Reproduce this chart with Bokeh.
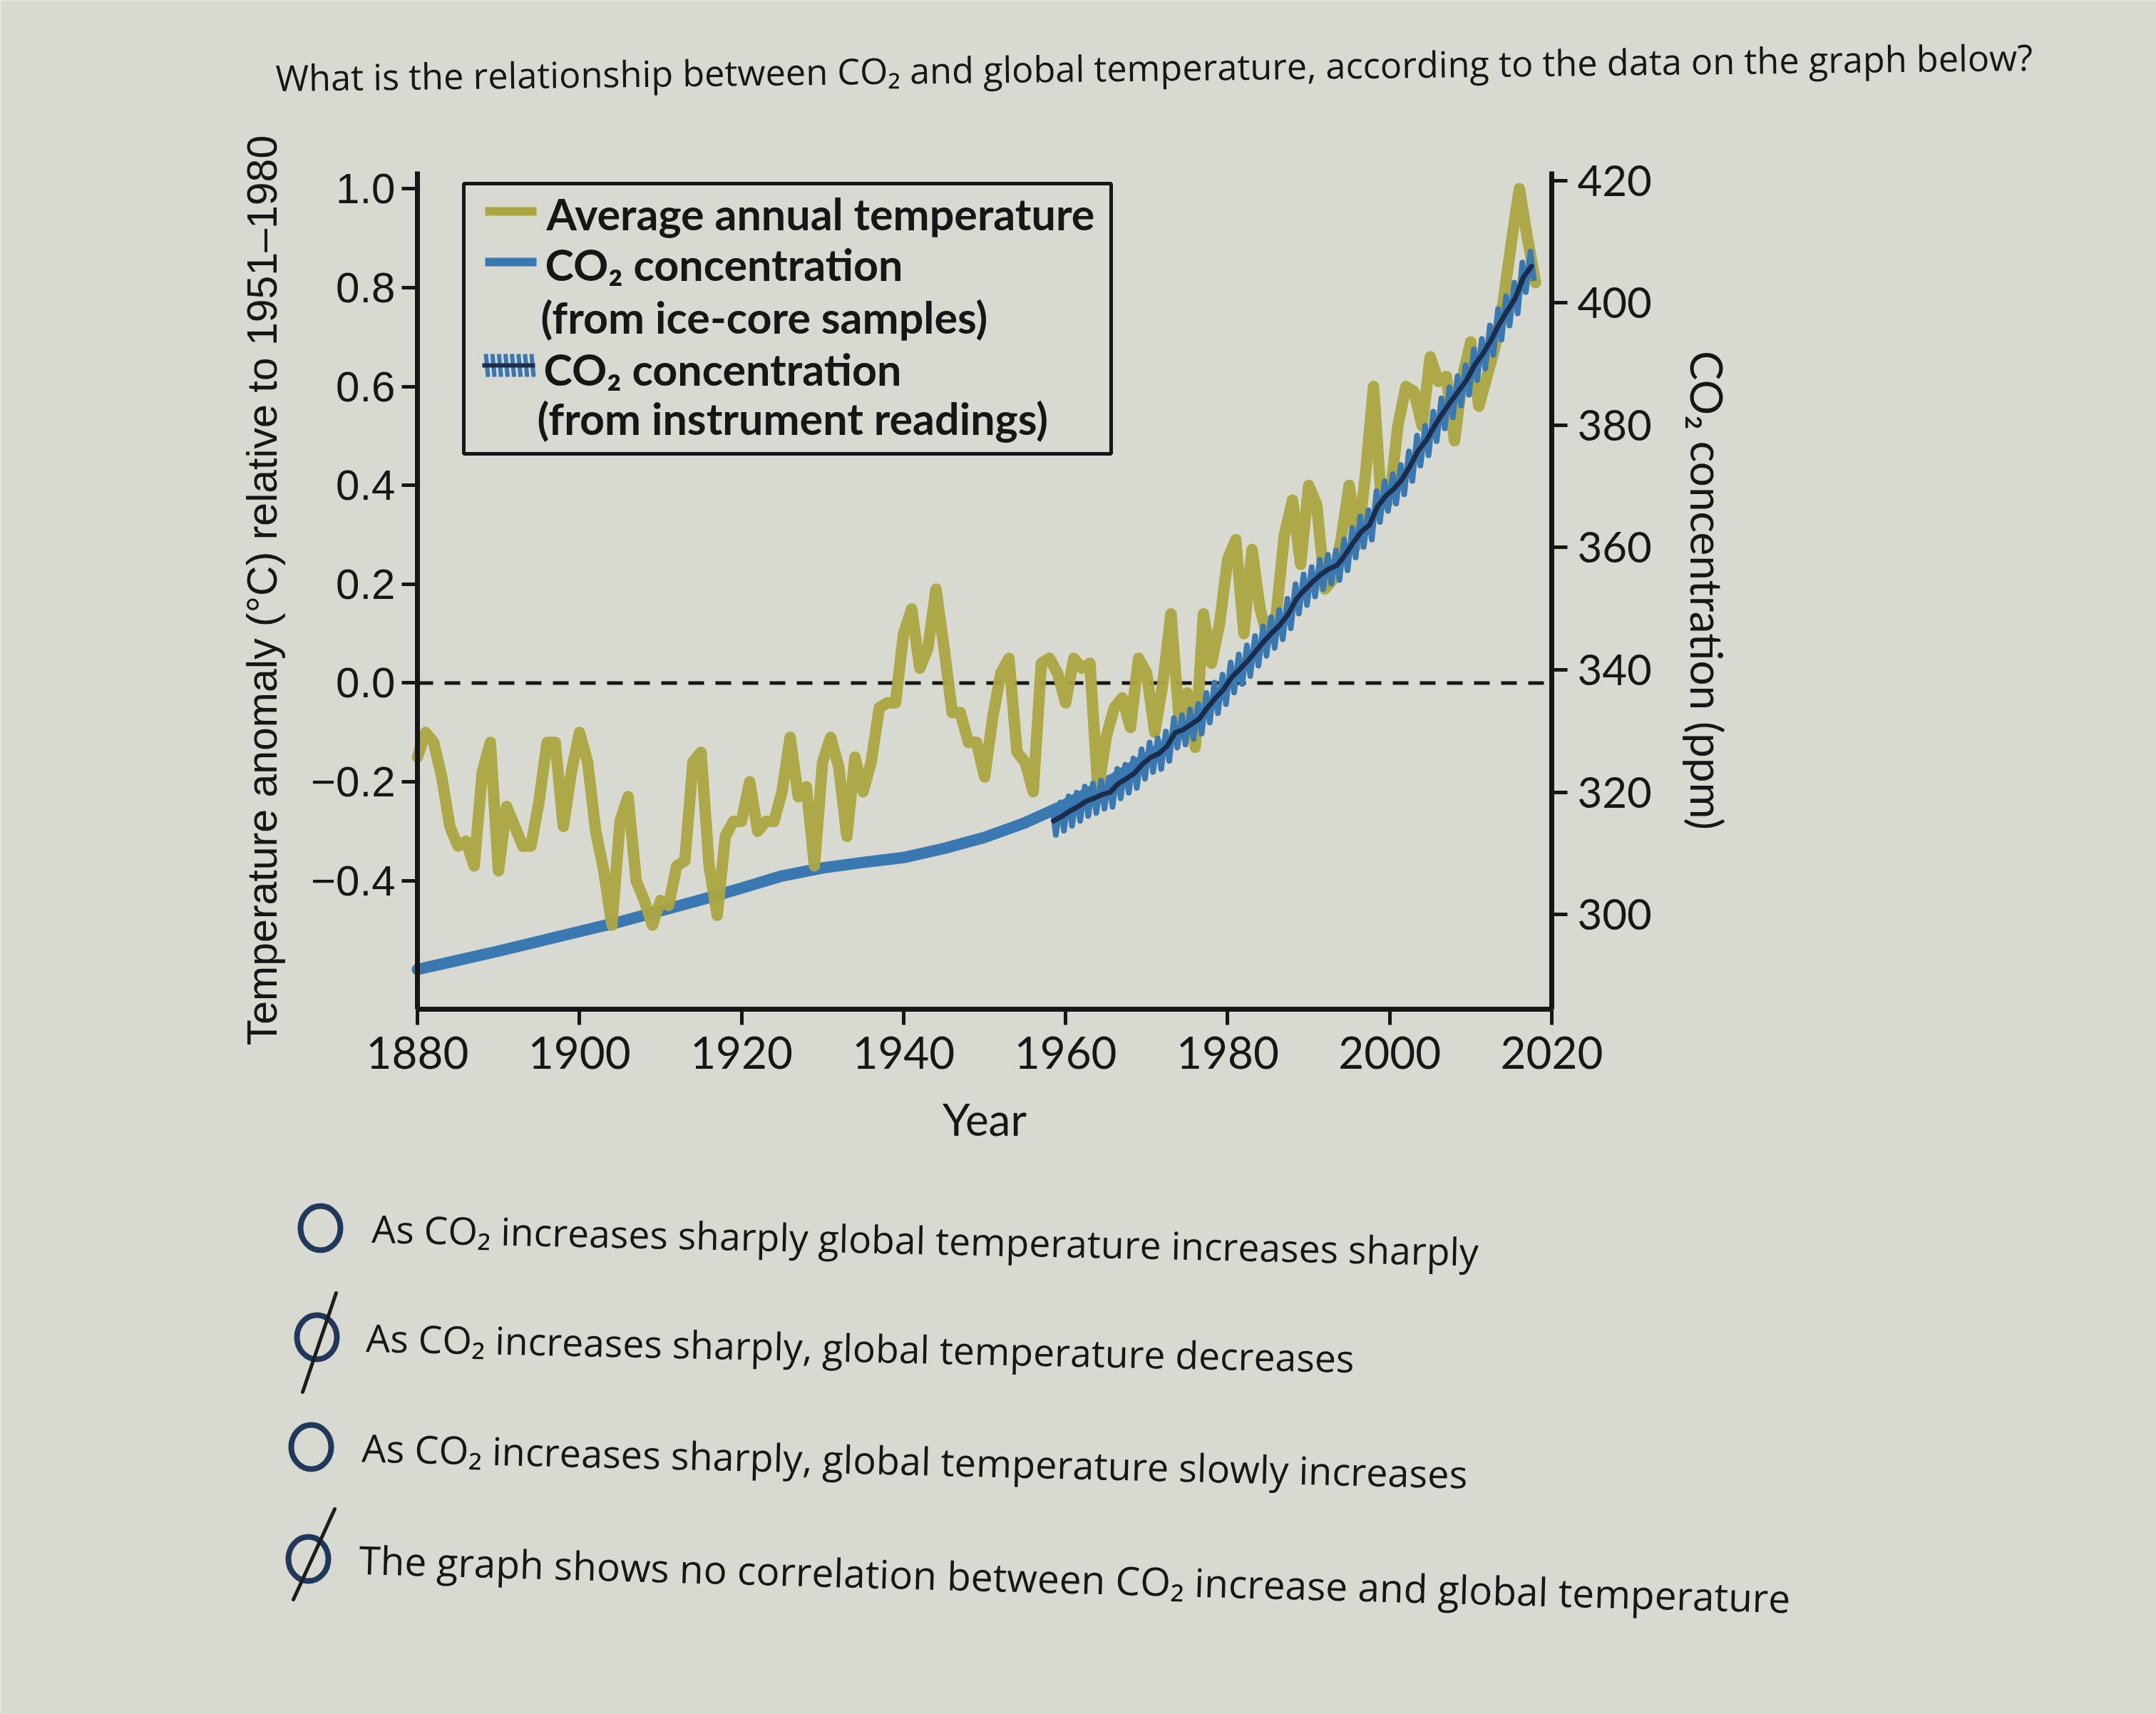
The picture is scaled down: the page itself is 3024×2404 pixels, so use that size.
from bokeh.plotting import figure
from bokeh.models import (Range1d, LinearAxis, FixedTicker, BoxAnnotation,
                          CustomJSTickFormatter)
from bokeh.core.properties import value
from bokeh.embed import file_html
from bokeh.resources import INLINE
import numpy as np

# ---------------------------------------------------------------- data
question = ("What is the relationship between CO\u2082 and global temperature, "
            "according to the data on the graph below?")

# average annual temperature anomaly (deg C, relative to 1951-1980)
temp_years = list(range(1880, 2019))
temp_anomaly = [
    -0.15, -0.10, -0.12, -0.19, -0.29, -0.33, -0.32, -0.37, -0.18, -0.12,
    -0.38, -0.25, -0.29, -0.33, -0.33, -0.24, -0.12, -0.12, -0.29, -0.18,
    -0.10, -0.16, -0.30, -0.38, -0.49, -0.28, -0.23, -0.40, -0.44, -0.49,
    -0.44, -0.45, -0.37, -0.36, -0.16, -0.14, -0.37, -0.47, -0.31, -0.28,
    -0.28, -0.20, -0.30, -0.28, -0.28, -0.22, -0.11, -0.23, -0.21, -0.37,
    -0.16, -0.11, -0.17, -0.31, -0.15, -0.22, -0.16, -0.05, -0.04, -0.04,
    0.10, 0.15, 0.03, 0.07, 0.19, 0.07, -0.06, -0.06, -0.12, -0.12,
    -0.19, -0.07, 0.02, 0.05, -0.14, -0.16, -0.22, 0.04, 0.05, 0.02,
    -0.04, 0.05, 0.03, 0.04, -0.22, -0.11, -0.05, -0.03, -0.09, 0.05,
    0.02, -0.10, 0.00, 0.14, -0.07, -0.02, -0.13, 0.14, 0.04, 0.12,
    0.25, 0.29, 0.10, 0.27, 0.15, 0.09, 0.14, 0.30, 0.37, 0.24,
    0.40, 0.36, 0.19, 0.21, 0.29, 0.40, 0.28, 0.42, 0.60, 0.36,
    0.37, 0.52, 0.60, 0.59, 0.52, 0.66, 0.61, 0.62, 0.49, 0.62,
    0.69, 0.56, 0.62, 0.68, 0.77, 0.89, 1.00, 0.90, 0.81,
]

# CO2 from ice-core samples (ppm)
icecore_years = [1880, 1885, 1890, 1895, 1900, 1905, 1910, 1915, 1920, 1925,
                 1930, 1935, 1940, 1945, 1950, 1955, 1960, 1965, 1970, 1975]
icecore_co2 = [291.0, 292.5, 294.0, 295.6, 297.2, 298.8, 300.6, 302.4, 304.3, 306.3,
               307.6, 308.5, 309.3, 310.8, 312.6, 315.0, 318.0, 321.4, 325.6, 330.4]

# CO2 from instrument readings (ppm): annual mean, seasonal high and low
instrument_years = list(range(1958, 2018))
instrument_mean = [
    315.3, 316.0, 316.9, 317.6, 318.5, 319.0, 319.6, 320.0, 321.4, 322.2,
    323.1, 324.6, 325.7, 326.3, 327.5, 329.7, 330.2, 331.1, 332.0, 333.8,
    335.4, 336.8, 338.8, 340.1, 341.5, 343.1, 344.7, 346.1, 347.4, 349.2,
    351.6, 353.1, 354.4, 355.6, 356.5, 357.1, 358.8, 360.8, 362.6, 363.7,
    366.7, 368.4, 369.6, 371.1, 373.3, 375.8, 377.5, 379.8, 381.9, 383.8,
    385.6, 387.4, 389.9, 391.7, 393.9, 396.5, 398.7, 400.8, 404.2, 406.0,
]
instrument_high = [
    317.6, 318.3, 319.3, 319.9, 320.9, 321.4, 321.9, 322.4, 323.8, 324.5,
    325.5, 327.0, 328.1, 328.8, 329.9, 332.1, 332.6, 333.5, 334.4, 336.2,
    337.9, 339.2, 341.2, 342.5, 344.0, 345.5, 347.1, 348.6, 349.8, 351.6,
    354.0, 355.6, 356.8, 358.0, 358.8, 359.5, 361.3, 363.2, 365.1, 366.1,
    369.2, 370.8, 372.0, 373.5, 375.7, 378.3, 379.9, 382.2, 384.4, 386.2,
    388.0, 389.8, 392.4, 394.1, 396.3, 399.0, 401.1, 403.3, 406.6, 408.4,
]
instrument_low = [
    313.0, 313.7, 314.5, 315.3, 316.1, 316.6, 317.3, 317.6, 319.0, 319.9,
    320.7, 322.2, 323.3, 323.8, 325.1, 327.3, 327.8, 328.7, 329.6, 331.4,
    332.9, 334.4, 336.3, 337.7, 339.0, 340.7, 342.3, 343.6, 345.0, 346.8,
    349.2, 350.6, 352.0, 353.2, 354.1, 354.7, 356.3, 358.4, 360.1, 361.3,
    364.2, 366.0, 367.2, 368.7, 370.9, 373.4, 375.1, 377.4, 379.5, 381.3,
    383.2, 385.0, 387.4, 389.3, 391.5, 394.0, 396.3, 398.3, 401.8, 403.6,
]
# seasonal maximum falls in May, minimum in early October
season_high_at = 0.37
season_low_at = 0.79

year_ticks = [1880, 1900, 1920, 1940, 1960, 1980, 2000, 2020]
temp_ticks = [-0.4, -0.2, 0.0, 0.2, 0.4, 0.6, 0.8, 1.0]
co2_ticks = [300, 320, 340, 360, 380, 400, 420]

legend_rows = ["Average annual temperature", "CO\u2082 concentration",
               "(from ice-core samples)", "CO\u2082 concentration",
               "(from instrument readings)"]

choices = [
    "As CO\u2082 increases sharply global temperature increases sharply",
    "As CO\u2082 increases sharply, global temperature decreases",
    "As CO\u2082 increases sharply, global temperature slowly increases",
    "The graph shows no correlation between CO\u2082 increase and global temperature",
]
choice_struck = [False, True, False, True]

# ---------------------------------------------------------------- style
PAPER = "#d8d9d1"
INK = "#161616"
OLIVE = "#aca640"
CO2_BLUE = "#3a78b1"
CO2_NAVY = "#1b2d4b"
RING = "#20385b"
PEN = "#1c1c1c"

W, H = 3024, 2404
X0, X1 = 1880, 2020            # year axis
T0, T1 = -0.66, 1.035          # temperature axis
C0, C1 = 284.5, 421.5          # CO2 axis
AX_L, AX_R = 585, 2176         # where the axes sit on the page (px)
AX_T, AX_B = 240, 1415


def lx(px):
    """page x (px) -> year"""
    return X0 + (px - AX_L) * (X1 - X0) / (AX_R - AX_L)


def ly(py):
    """page y (px) -> temperature anomaly"""
    return T1 - (py - AX_T) * (T1 - T0) / (AX_B - AX_T)


def lc(py):
    """page y (px) -> CO2 concentration"""
    return C1 - (py - AX_T) * (C1 - C0) / (AX_B - AX_T)


# the plotting frame covers the whole page; axes are pinned at the chart edges
p = figure(width=W, height=H,
           x_range=Range1d(lx(0), lx(W)), y_range=Range1d(ly(H), ly(0)),
           output_backend="svg", toolbar_location=None, min_border=0,
           background_fill_color=PAPER, border_fill_color=PAPER, outline_line_color=None)
p.grid.visible = False
p.extra_y_ranges = {"co2": Range1d(lc(H), lc(0))}

xa = p.xaxis[0]
xa.fixed_location = T0
xa.bounds = (X0, X1)
xa.ticker = FixedTicker(ticks=year_ticks)
xa.axis_label = "Year"

ya = p.yaxis[0]
ya.fixed_location = X0
ya.bounds = (T0, T1)
ya.ticker = FixedTicker(ticks=temp_ticks)
ya.formatter = CustomJSTickFormatter(
    code="return (tick < -1e-9 ? '\u2212' : '') + Math.abs(tick).toFixed(1);")
ya.axis_label = "Temperature anomaly (\u00b0C) relative to 1951\u20131980"

ra = LinearAxis(y_range_name="co2", fixed_location=X1, bounds=(C0, C1),
                ticker=FixedTicker(ticks=co2_ticks),
                axis_label="CO\u2082 concentration (ppm)")
p.add_layout(ra, "right")

for ax in (xa, ya, ra):
    ax.axis_line_color = INK
    ax.axis_line_width = 7
    ax.major_tick_line_color = INK
    ax.major_tick_line_width = 5
    ax.major_tick_out = 22
    ax.major_tick_in = 0
    ax.minor_tick_line_color = None
    ax.major_label_text_color = INK
    ax.axis_label_text_color = INK
    ax.axis_label_text_font_style = "normal"

xa.major_label_text_font = "Lato"
xa.major_label_text_font_size = "62px"
xa.major_label_standoff = 16
xa.axis_label_text_font = "Lato"
xa.axis_label_text_font_size = "62px"
xa.axis_label_standoff = 30

ya.major_label_text_font = "Liberation Sans"
ya.major_label_text_font_size = "60px"
ya.major_label_standoff = 9
ya.axis_label_text_font = "Liberation Sans"
ya.axis_label_text_font_size = "59px"
ya.axis_label_standoff = 32

ra.major_label_text_font = "Lato"
ra.major_label_text_font_size = "60px"
ra.major_label_standoff = 14
ra.axis_label_text_font = "Lato"
ra.axis_label_text_font_size = "62px"
ra.axis_label_standoff = 38

# zero line of the temperature anomaly
p.segment(x0=[X0], y0=[0.0], x1=[X1], y1=[0.0], line_color=INK, line_width=5,
          line_dash="22 16")

# CO2 from ice cores
p.line(icecore_years, icecore_co2, y_range_name="co2", line_color=CO2_BLUE,
       line_width=16, line_cap="round", line_join="round")

# temperature anomaly
p.line(temp_years, temp_anomaly, line_color=OLIVE, line_width=16,
       line_join="round", line_cap="round", line_alpha=0.95)

# CO2 instrument readings: seasonal swing plus annual mean
zig_x, zig_y = [], []
for yr, hi, lo in zip(instrument_years, instrument_high, instrument_low):
    zig_x += [yr + season_high_at, yr + season_low_at]
    zig_y += [hi, lo]
p.line(zig_x, zig_y, y_range_name="co2", line_color=CO2_BLUE, line_width=8,
       line_join="round")
p.line([yr + 0.5 for yr in instrument_years], instrument_mean, y_range_name="co2",
       line_color=CO2_NAVY, line_width=7, line_cap="round")

# legend
p.add_layout(BoxAnnotation(left=lx(650), right=lx(1558), top=ly(257), bottom=ly(636),
                           fill_alpha=0, line_color=INK, line_alpha=1, line_width=5))
row_y = [299, 370, 444, 517, 586]
row_x = [766, 764, 758, 762, 753]
p.text(x=[lx(v) for v in row_x], y=[ly(v) for v in row_y], text=legend_rows,
       text_font=value("Lato"), text_font_size="61px", text_font_style="bold",
       text_color=INK, text_baseline="middle", text_align="left")
p.segment(x0=[lx(680)], y0=[ly(296)], x1=[lx(752)], y1=[ly(296)],
          line_color=OLIVE, line_width=12)
p.segment(x0=[lx(680)], y0=[ly(367)], x1=[lx(752)], y1=[ly(367)],
          line_color=CO2_BLUE, line_width=12)
hx = np.linspace(681, 745, 8)
p.segment(x0=[lx(v) for v in hx], y0=[ly(496)] * len(hx),
          x1=[lx(v + 3) for v in hx], y1=[ly(528)] * len(hx),
          line_color=CO2_BLUE, line_width=6)
p.segment(x0=[lx(676)], y0=[ly(512)], x1=[lx(750)], y1=[ly(512)],
          line_color=CO2_NAVY, line_width=6)

# ---------------------------------------------------------------- question
p.text(x=[lx(386)], y=[ly(108)], text=[question], text_font=value("Open Sans"),
       text_font_size="50.5px", text_color=INK, text_baseline="middle",
       text_align="left", angle=0.0118)

# ---------------------------------------------------------------- answers
ring_x = [449, 444, 436, 432]
ring_y = [1722, 1875, 2029, 2186]
text_x = [521, 513, 507, 503]
text_size = ["53.5px", "53.5px", "54px", "55px"]
text_angle = [-0.021, -0.021, -0.024, -0.027]

px_x = (X1 - X0) / (AX_R - AX_L)      # years per page pixel
px_y = (T1 - T0) / (AX_B - AX_T)      # degrees per page pixel
p.ellipse(x=[lx(v) for v in ring_x], y=[ly(v) for v in ring_y],
          width=56 * px_x, height=62 * px_y, fill_alpha=0,
          line_color=RING, line_width=8)
for i, label in enumerate(choices):
    p.text(x=[lx(text_x[i])], y=[ly(ring_y[i])], text=[label],
           text_font=value("Open Sans"), text_font_size=text_size[i],
           text_color=INK, text_baseline="middle", text_align="left",
           angle=text_angle[i])

slash = {1: (471, 1813, 424, 1952), 3: (469, 2116, 411, 2243)}
for i, struck in enumerate(choice_struck):
    if struck:
        x0, y0, x1, y1 = slash[i]
        p.segment(x0=[lx(x0)], y0=[ly(y0)], x1=[lx(x1)], y1=[ly(y1)],
                  line_color=PEN, line_width=5, line_cap="round")

open("out.html", "w", encoding="utf-8").write(file_html(p, INLINE))
